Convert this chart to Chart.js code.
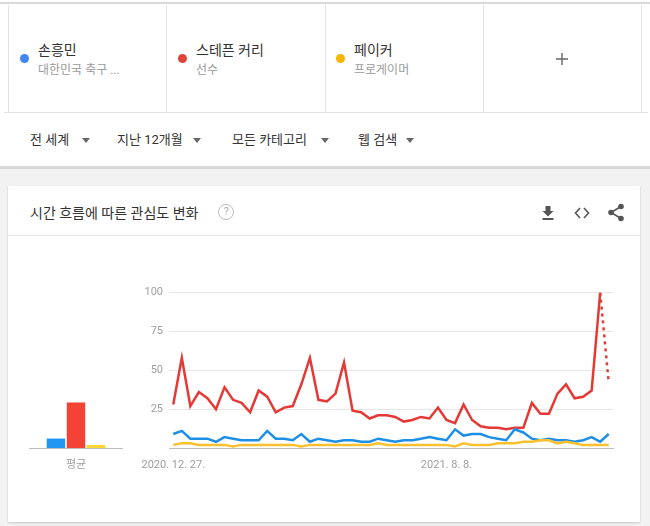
<!DOCTYPE html>
<html lang="ko">
<head>
<meta charset="utf-8">
<script src="https://cdn.jsdelivr.net/npm/chart.js@4.4.1/dist/chart.umd.min.js"></script>
<style>
  body { margin: 0; width: 650px; height: 526px; position: relative; overflow: hidden;
         background: #f2f2f2; font-family: Roboto, "Noto Sans CJK KR", sans-serif; }
  .abs { position: absolute; }
  #top { left: 0; top: 0; width: 650px; height: 167px; background: #fff; }
  #topline { left: 0; top: 2px; width: 650px; height: 2px; background: #d9d9d9; }
  .cell { top: 5px; height: 107px; border-right: 1px solid #e3e3e3; box-sizing: border-box; }
  #panelline { left: 4px; top: 112px; width: 644px; height: 1px; background: #e3e3e3; }
  .dot { width: 9px; height: 9px; border-radius: 50%; }
  .term { font-size: 14px; color: #333; line-height: 18px; }
  .sub { font-size: 12px; color: #9a9a9a; line-height: 16px; }
  .filter { font-size: 13px; color: #333; line-height: 18px; top: 131px; }
  .tri { width: 0; height: 0; border-left: 4px solid transparent; border-right: 4px solid transparent;
         border-top: 5px solid #666; top: 138px; }
  #sep { left: 0; top: 166px; width: 650px; height: 3px; background: #d8d8d8; }
  #card { left: 8px; top: 186px; width: 632px; height: 336px; background: #fff;
          box-shadow: 0 1px 2px rgba(0,0,0,0.18); }
  #title { left: 30px; top: 203px; font-size: 14px; color: #333; line-height: 20px; }
  #help { left: 218px; top: 204px; width: 14px; height: 14px; border: 1.5px solid #bdbdbd; border-radius: 50%;
          font-size: 11px; color: #b0b0b0; text-align: center; line-height: 14px; }
  #hline { left: 8px; top: 235px; width: 632px; height: 1px; background: #e6e6e6; }
  canvas { position: absolute; }
</style>
</head>
<body>
<div id="top" class="abs"></div>
<div id="topline" class="abs"></div>
<div class="abs cell" style="left:8px;width:159px;border-left:1px solid #e3e3e3"></div>
<div class="abs cell" style="left:167px;width:159px"></div>
<div class="abs cell" style="left:326px;width:158px"></div>
<div class="abs cell" style="left:484px;width:158px"></div>
<div id="panelline" class="abs"></div>

<div class="abs dot" style="left:20px;top:54px;background:#4285f4"></div>
<div class="abs term" style="left:38px;top:41px">손흥민</div>
<div class="abs sub" style="left:38px;top:62px">대한민국 축구 ...</div>
<div class="abs dot" style="left:178px;top:54px;background:#db4437"></div>
<div class="abs term" style="left:196px;top:41px">스테픈 커리</div>
<div class="abs sub" style="left:196px;top:62px">선수</div>
<div class="abs dot" style="left:336px;top:54px;background:#f4b400"></div>
<div class="abs term" style="left:354px;top:41px">페이커</div>
<div class="abs sub" style="left:354px;top:62px">프로게이머</div>
<svg class="abs" style="left:555px;top:52px" width="14" height="14"><path d="M7 1v12M1 7h12" stroke="#666" stroke-width="1.4"/></svg>

<div class="abs filter" style="left:30px">전 세계</div><div class="abs tri" style="left:82px"></div>
<div class="abs filter" style="left:117px">지난 12개월</div><div class="abs tri" style="left:193px"></div>
<div class="abs filter" style="left:232px">모든 카테고리</div><div class="abs tri" style="left:321px"></div>
<div class="abs filter" style="left:358px">웹 검색</div><div class="abs tri" style="left:406px"></div>

<div id="sep" class="abs"></div>
<div id="card" class="abs"></div>
<div id="title" class="abs">시간 흐름에 따른 관심도 변화</div>
<div id="help" class="abs">?</div>
<div id="hline" class="abs"></div>
<svg class="abs" style="left:541px;top:205px" width="14" height="16"><path d="M4.5 1h5v5h3L7 11.5 1.5 6h3z" fill="#555"/><rect x="1.5" y="13" width="11" height="2" fill="#555"/></svg>
<svg class="abs" style="left:574px;top:206px" width="16" height="14"><path d="M6 2L1.5 7 6 12M10 2l4.5 5L10 12" stroke="#555" stroke-width="1.6" fill="none"/></svg>
<svg class="abs" style="left:607px;top:203px" width="18" height="19"><path d="M14 3.5L4 9.5l10 6" stroke="#555" stroke-width="1.6" fill="none"/><circle cx="14" cy="3.5" r="2.8" fill="#555"/><circle cx="4" cy="9.5" r="2.8" fill="#555"/><circle cx="14" cy="15.5" r="2.8" fill="#555"/></svg>

<canvas id="avg" width="94" height="190" style="left:29px;top:280px"></canvas>
<canvas id="trend" width="495" height="190" style="left:130px;top:280px"></canvas>

<script>
// weekly points, past 12 months
const weeks = ['2020. 12. 27.', '2021. 1. 3.', '2021. 1. 10.', '2021. 1. 17.', '2021. 1. 24.', '2021. 1. 31.',
  '2021. 2. 7.', '2021. 2. 14.', '2021. 2. 21.', '2021. 2. 28.', '2021. 3. 7.', '2021. 3. 14.', '2021. 3. 21.',
  '2021. 3. 28.', '2021. 4. 4.', '2021. 4. 11.', '2021. 4. 18.', '2021. 4. 25.', '2021. 5. 2.', '2021. 5. 9.',
  '2021. 5. 16.', '2021. 5. 23.', '2021. 5. 30.', '2021. 6. 6.', '2021. 6. 13.', '2021. 6. 20.', '2021. 6. 27.',
  '2021. 7. 4.', '2021. 7. 11.', '2021. 7. 18.', '2021. 7. 25.', '2021. 8. 1.', '2021. 8. 8.', '2021. 8. 15.',
  '2021. 8. 22.', '2021. 8. 29.', '2021. 9. 5.', '2021. 9. 12.', '2021. 9. 19.', '2021. 9. 26.', '2021. 10. 3.',
  '2021. 10. 10.', '2021. 10. 17.', '2021. 10. 24.', '2021. 10. 31.', '2021. 11. 7.', '2021. 11. 14.',
  '2021. 11. 21.', '2021. 11. 28.', '2021. 12. 5.', '2021. 12. 12.', '2021. 12. 19.'];
const shownTicks = ['2020. 12. 27.', '2021. 8. 8.'];
const yTicks = [25, 50, 75, 100];

const terms = ['손흥민', '스테픈 커리', '페이커'];
const sonValues = [9, 11, 6, 6, 6, 4, 7, 6, 5, 5, 5, 11, 6, 6, 5, 9, 4, 6, 5, 4,
  5, 5, 4, 4, 6, 5, 4, 5, 5, 6, 7, 6, 5, 12, 8, 9, 9, 7, 6, 5,
  12, 10, 6, 5, 6, 5, 5, 4, 5, 7, 4, 9];
const curryValues = [28, 58, 27, 36, 32, 25, 39, 31, 29, 23, 37, 33, 23, 26, 27, 41, 58, 31, 30, 35,
  55, 24, 23, 19, 21, 21, 20, 17, 18, 20, 19, 26, 18, 16, 28, 18, 14, 13, 13, 12,
  13, 13, 29, 22, 22, 35, 41, 32, 33, 37, 100, 42];
const fakerValues = [2, 3, 3, 2, 2, 2, 2, 1, 2, 2, 2, 2, 2, 2, 2, 1, 2, 2, 2, 2,
  2, 2, 2, 2, 3, 2, 2, 2, 2, 2, 2, 2, 2, 1, 3, 2, 2, 2, 3, 3,
  3, 4, 4, 5, 5, 3, 4, 3, 2, 2, 2, 2];
const averages = [6, 29, 2];

const lineColors = ['#1e8fe6', '#e53935', '#fbc02d'];
const barColors = ['#2196f3', '#f44336', '#fdd835'];
const lastIdx = weeks.length - 1; // partial week, drawn dotted on the big line

Chart.defaults.font.family = 'Roboto, "Noto Sans CJK KR", sans-serif';
Chart.defaults.animation = false;

function mkLine(i, values, dotted) {
  return {
    label: terms[i],
    data: values,
    borderColor: lineColors[i],
    borderWidth: 2.5,
    pointRadius: 0,
    tension: 0,
    segment: {
      borderDash: ctx => (dotted && ctx.p1DataIndex === lastIdx) ? [3, 4] : undefined
    }
  };
}

new Chart(document.getElementById('trend'), {
  type: 'line',
  data: {
    labels: weeks,
    datasets: [mkLine(2, fakerValues, false), mkLine(0, sonValues, false), mkLine(1, curryValues, true)]
  },
  options: {
    responsive: false,
    layout: { padding: { top: 11, right: 12, bottom: 0, left: 0 } },
    plugins: { legend: { display: false }, tooltip: { enabled: false } },
    scales: {
      x: {
        offset: true,
        grid: { display: false },
        border: { color: '#bdbdbd', width: 1 },
        ticks: {
          autoSkip: false, maxRotation: 0, padding: 3,
          color: '#9e9e9e', font: { size: 11 },
          callback: function (v) {
            const l = this.getLabelForValue(v);
            return shownTicks.includes(l) ? l : '';
          }
        },
        afterFit: s => { s.height = 22; }
      },
      y: {
        min: 0, max: 100,
        border: { display: false },
        grid: {
          drawTicks: false,
          color: ctx => yTicks.includes(ctx.tick.value) ? '#e6e6e6' : 'rgba(0,0,0,0)'
        },
        ticks: {
          stepSize: 25, padding: 6, color: '#a0a0a0', font: { size: 11 },
          callback: v => yTicks.includes(v) ? v : ''
        },
        afterFit: s => { s.width = 39; }
      }
    }
  }
});

new Chart(document.getElementById('avg'), {
  type: 'bar',
  data: {
    labels: ['평균'],
    datasets: terms.map((t, i) => ({
      label: t,
      data: [averages[i]],
      backgroundColor: barColors[i],
      borderWidth: 0,
      categoryPercentage: 0.64,
      barPercentage: 0.92
    }))
  },
  options: {
    responsive: false,
    layout: { padding: { top: 11, right: 0, bottom: 0, left: 0 } },
    plugins: { legend: { display: false }, tooltip: { enabled: false } },
    scales: {
      x: {
        grid: { display: false },
        border: { color: '#bdbdbd', width: 1 },
        ticks: { padding: 3, color: '#9e9e9e', font: { size: 11 } },
        afterFit: s => { s.height = 22; }
      },
      y: { display: false, min: 0, max: 100 }
    }
  }
});
</script>
</body>
</html>
